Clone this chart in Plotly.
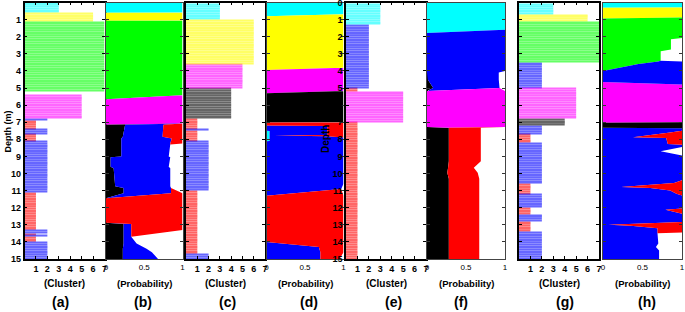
import plotly.graph_objects as go

W, H = 685, 312
FONT = "Liberation Sans, Arial, sans-serif"

# ---------------- tick labels ----------------
depth_tick_vals = list(range(16))
a_depth_labels = [""] + [str(i) for i in range(1, 16)]
e_depth_labels = [str(i) for i in range(16)]
cluster_tick_vals = [1, 2, 3, 4, 5, 6, 7]
cluster_tick_text = ["1", "2", "3", "4", "5", "6", "7"]
prob_tick_vals = [0, 0.5, 1]
prob_tick_text = ["0", "0.5", "1"]
panel_letters = ["(a)", "(b)", "(c)", "(d)", "(e)", "(f)", "(g)", "(h)"]

cluster_colors = {1: "#ff0000", 2: "#0000ff", 3: "#00ffff", 4: "#000000",
                  5: "#ff00ff", 6: "#ffff00", 7: "#00ff00"}

# ---------------- cluster logs: (top depth, bottom depth, cluster) ----------------
seg_a = [(0.0, 0.6, 3), (0.6, 1.1, 6), (1.1, 5.2, 7), (5.4, 6.8, 5), (6.8, 6.9, 2),
         (6.9, 7.4, 1), (7.4, 7.7, 2), (7.7, 8.1, 1), (8.1, 11.1, 2), (11.1, 13.3, 1),
         (13.3, 13.5, 2), (13.5, 13.6, 1), (13.6, 13.7, 2), (13.7, 14.0, 1), (14.0, 15.0, 2)]
seg_c = [(0.1, 1.0, 3), (1.0, 3.6, 6), (3.6, 5.0, 5), (5.0, 6.8, 4), (6.8, 7.4, 1),
         (7.4, 7.5, 2), (7.5, 8.1, 1), (8.1, 11.0, 2), (11.0, 14.7, 1), (14.7, 15.0, 2)]
seg_e = [(0.1, 1.3, 3), (1.3, 5.0, 2), (5.0, 5.2, 1), (5.2, 7.0, 5), (7.0, 15.0, 1)]
seg_g = [(0.1, 0.7, 3), (0.7, 1.1, 6), (1.1, 3.5, 7), (3.5, 5.0, 2), (5.0, 6.8, 5),
         (6.8, 7.2, 4), (7.2, 7.7, 2), (7.7, 8.2, 1), (8.2, 10.6, 2), (10.6, 11.2, 1),
         (11.2, 12.0, 2), (12.0, 12.4, 1), (12.4, 12.8, 2), (12.8, 13.4, 1), (13.4, 15.0, 2)]
sample_depths = [round(0.05 + 0.1 * i, 2) for i in range(150)]

# ---------------- probability logs (stacked, left to right) ----------------
b_depth = [0, 0.58, 0.6, 1.05, 1.07, 5.43, 5.66, 7.08, 7.15, 7.85, 7.95, 8.25, 8.3, 9.0, 9.05,
           9.6, 9.7, 10.75, 10.85, 11.15, 11.45, 12.88, 12.95, 13.3, 13.7, 14.1, 14.4, 14.6, 15.0]
b_cyan = [1, 1] + [0] * 27
b_yellow = [0, 0, 1, 1] + [0] * 25
b_green = [0, 0, 0, 0, 1, 1] + [0] * 23
b_magenta = [0] * 6 + [1, 1] + [0] * 21
b_black = [0] * 8 + [.25, .22, .20, .20, .20, .20, .06, .06, .10, .12, .23, .23, 0, 0,
                     .23, .23, .23, .23, .22, .22, .22]
b_blue = [0] * 8 + [.50, .52, .66, .64, .64, .62, .78, .76, .74, .72, .62, .62, 0, 0,
                    .10, .10, .10, .17, .31, .38, .46]
b_red = [0] * 8 + [.25, .26, .14, .16, 0, 0, 0, 0, 0, 0, 0, .15, 1, 1,
                   .67, .67, 0, 0, 0, 0, 0]

d_depth = [0, 0.68, 0.81, 3.82, 3.95, 5.17, 5.31, 7.0, 7.02, 7.19, 7.22, 7.5, 7.52, 7.75, 7.78,
           7.82, 7.9, 8.1, 8.12, 10.6, 10.9, 11.3, 14.0, 14.3, 14.6, 15.0]
d_cyan = [1, 1] + [0] * 10 + [.04] * 6 + [0] * 8
d_yellow = [0, 0, 1, 1] + [0] * 22
d_magenta = [0] * 4 + [1, 1] + [0] * 20
d_black = [0] * 6 + [1, 1] + [0] * 18
d_blue = [0] * 10 + [.79, .79, .75, .75, .06, .75, .96, .96, 1, 1, .97, 0, 0, .68, .70, .70]
d_red = [0] * 8 + [1, 1, .21, .21, .21, .21, .90, .21, 0, 0, 0, 0, 0, 1, 1, .32, .30, .25]

f_depth = [0, 1.59, 1.78, 4.0, 4.1, 4.5, 5.0, 5.18, 7.28, 7.32, 9.28, 9.67, 9.96, 10.3, 15.0]
f_cyan = [1, 1] + [0] * 13
f_black = [0, 0, 0, 0, 0, .01, .08, 0, 0, .28, .28, .27, .26, .28, .28]
f_blue = [0, 0, 1, 1, .92, .91, .85, 0, 0, 0, 0, 0, 0, 0, 0]
f_magenta = [0] * 7 + [1, 1] + [0] * 6
f_red = [0] * 9 + [.41, .41, .33, .39, .39, .39]

h_depth = [0, 0.29, 0.31, 0.87, 0.93, 2.07, 2.15, 2.75, 2.85, 3.40, 3.45, 3.6, 4.0, 4.65, 4.8,
           7.0, 7.03, 7.33, 7.36, 7.5, 7.6, 7.88, 7.92, 8.28, 8.32, 8.45, 8.7, 8.95, 10.4,
           10.55, 10.79, 10.85, 11.0, 11.18, 11.28, 12.05, 12.12, 12.3, 12.35, 12.83, 13.0,
           13.05, 13.2, 13.45, 13.5, 14.1, 14.3, 14.5, 15.0]
h_cyan = [1, 1] + [0] * 47
h_yellow = [0, 0, 1, 1] + [0] * 45
h_green = [0, 0, 0, 0, 1, 1, .86, .86, .73, .73, .70, .45, 0] + [0] * 36
h_magenta = [0] * 14 + [1, 1] + [0] * 33
h_blue = [0] * 10 + [.30, .55, 1, 1, 0, 0, 0, 0, 1, 1, .85, .38, .80, .82, 1, 1, .73, 1, 1,
                     .90, .23, .60, .85, .93, 1, 1, .79, .95, 1, 1, .07, .35, .69, .69, .69,
                     .70, .67, .71, .71]
h_black = [0] * 16 + [1, 1] + [0] * 31
h_red = [0] * 20 + [.15, .62, .20, .18, 0, 0, 0, 0, 0, .10, .77, .40, .15, .07, 0, 0, .21, .05,
                    0, 0, .93, .65, .31, .31, 0, 0, 0, 0, 0]

# ---------------- layout geometry (pixels) ----------------
panel_x = [(24.5, 104.5), (106, 182.5), (186, 265), (266.5, 343.5),
           (346, 426), (427, 505), (519, 599), (603, 682)]
plot_top, plot_bottom = 2.5, 259
y_domain = [1 - plot_bottom / H, 1 - plot_top / H]

fig = go.Figure()


def add_cluster_panel(n, segs):
    by_cluster = {}
    for d in sample_depths:
        for top, bot, c in segs:
            if top <= d < bot:
                by_cluster.setdefault(c, []).append(d)
                break
    for c, ds in sorted(by_cluster.items()):
        fig.add_trace(go.Bar(x=[c] * len(ds), y=ds, orientation="h", width=0.075,
                             marker=dict(color=cluster_colors[c], line=dict(width=0)),
                             opacity=0.6, showlegend=False,
                             xaxis=f"x{n}", yaxis=f"y{n}", hoverinfo="x+y"))


def add_prob_panel(n, depth, layers):
    for vals, color in layers:
        fig.add_trace(go.Scatter(x=vals, y=depth, orientation="h", stackgroup=f"s{n}",
                                 mode="none", fillcolor=color, showlegend=False,
                                 xaxis=f"x{n}", yaxis=f"y{n}"))


add_cluster_panel(1, seg_a)
add_prob_panel(2, b_depth, [(b_cyan, "#00ffff"), (b_yellow, "#ffff00"), (b_green, "#00ff00"),
                            (b_magenta, "#ff00ff"), (b_black, "#000000"), (b_blue, "#0000ff"),
                            (b_red, "#ff0000")])
add_cluster_panel(3, seg_c)
add_prob_panel(4, d_depth, [(d_cyan, "#00ffff"), (d_yellow, "#ffff00"), (d_magenta, "#ff00ff"),
                            (d_black, "#000000"), (d_blue, "#0000ff"), (d_red, "#ff0000")])
add_cluster_panel(5, seg_e)
add_prob_panel(6, f_depth, [(f_cyan, "#00ffff"), (f_black, "#000000"), (f_blue, "#0000ff"),
                            (f_magenta, "#ff00ff"), (f_red, "#ff0000")])
add_cluster_panel(7, seg_g)
add_prob_panel(8, h_depth, [(h_cyan, "#00ffff"), (h_yellow, "#ffff00"), (h_green, "#00ff00"),
                            (h_magenta, "#ff00ff"), (h_blue, "#0000ff"), (h_black, "#000000"),
                            (h_red, "#ff0000")])

layout = dict(width=W, height=H, margin=dict(l=0, r=0, t=0, b=0, autoexpand=False),
              paper_bgcolor="white", plot_bgcolor="white", barmode="overlay",
              font=dict(family=FONT, color="black"), showlegend=False)

for i in range(8):
    n = i + 1
    x0, x1 = panel_x[i]
    is_cluster = (i % 2 == 0)
    xa = dict(domain=[x0 / W, x1 / W], anchor=f"y{n}", showgrid=False, zeroline=False,
              showline=True, mirror=True if not is_cluster else "ticks", fixedrange=True,
              ticklabeloverflow="allow", automargin=False)
    ya = dict(domain=y_domain, anchor=f"x{n}", range=[15, 0], showgrid=False, zeroline=False,
              showline=True, mirror="ticks", tickvals=depth_tick_vals, ticks="inside",
              ticklen=3, fixedrange=True, ticklabeloverflow="allow", automargin=False)
    if is_cluster:
        xa.update(range=[0, 7], tickvals=cluster_tick_vals, ticktext=cluster_tick_text,
                  ticks="inside", ticklen=3, tickcolor="black", linecolor="black", linewidth=1.5,
                  tickfont=dict(family=FONT, size=9, color="black", weight="bold"))
        ya.update(linecolor="black", linewidth=1.5, tickcolor="black")
    else:
        xa.update(range=[0, 1], tickvals=prob_tick_vals, ticktext=prob_tick_text, ticks="",
                  linecolor="#444444", linewidth=1,
                  tickfont=dict(family=FONT, size=8, color="black"))
        ya.update(linecolor="#444444", linewidth=1, tickcolor="#333333", showticklabels=False)
    if n == 1:
        ya.update(ticktext=a_depth_labels, showticklabels=True,
                  tickfont=dict(family=FONT, size=9, color="black", weight="bold"))
    elif n == 5:
        ya.update(ticktext=e_depth_labels, showticklabels=True,
                  tickfont=dict(family=FONT, size=9, color="black", weight="bold"))
    elif is_cluster:
        ya.update(showticklabels=False)
    layout[f"xaxis{'' if n == 1 else n}"] = xa
    layout[f"yaxis{'' if n == 1 else n}"] = ya

annotations = []


def ann(text, x, y, size, bold=True, angle=0):
    annotations.append(dict(text=text, x=x / W, y=1 - y / H, xref="paper", yref="paper",
                            showarrow=False, xanchor="center", yanchor="middle",
                            textangle=angle,
                            font=dict(family=FONT, size=size, color="black",
                                      weight="bold" if bold else "normal")))


for i in range(8):
    x0, x1 = panel_x[i]
    ann("(Cluster)" if i % 2 == 0 else "(Probability)", (x0 + x1) / 2, 283,
        10 if i % 2 == 0 else 9.5)

letter_x = [60, 143, 227, 309, 393, 461, 565, 647]
for i, lx in enumerate(letter_x):
    ann(panel_letters[i], lx, 302, 14)

ann("Depth (m)", 7.5, 132, 9, angle=-90)
ann("Depth", 325, 139, 10, angle=-90)

layout["annotations"] = annotations
fig.update_layout(**layout)
fig.write_html("out.html", config={"displayModeBar": False},
               post_script="document.body.style.margin='0px';document.body.style.overflow='hidden';")
